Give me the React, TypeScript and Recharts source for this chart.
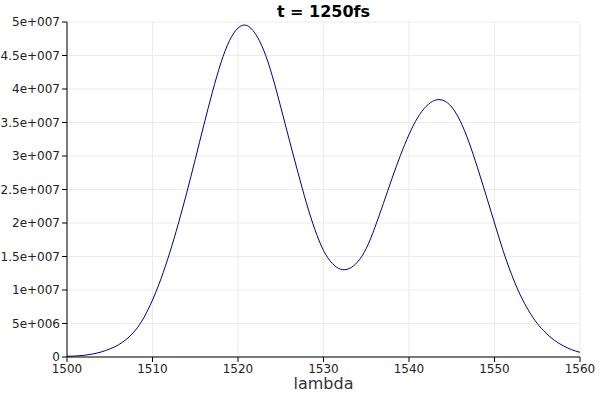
import { LineChart, Line, XAxis, YAxis, CartesianGrid } from 'recharts'

const lambdas = [
  1500, 1501, 1502, 1503, 1504, 1505, 1506, 1507, 1508, 1509,
  1510, 1511, 1512, 1513, 1514, 1515, 1516, 1517, 1518, 1519,
  1520, 1521, 1522, 1523, 1524, 1525, 1526, 1527, 1528, 1529,
  1530, 1531, 1532, 1533, 1534, 1535, 1536, 1537, 1538, 1539,
  1540, 1541, 1542, 1543, 1544, 1545, 1546, 1547, 1548, 1549,
  1550, 1551, 1552, 1553, 1554, 1555, 1556, 1557, 1558, 1559,
  1560,
]

// intensity, in units of 1e6
const intensity = [
  0.1, 0.15, 0.25, 0.45, 0.75, 1.2, 1.8, 2.7, 4.0, 5.9,
  8.5, 11.7, 15.5, 19.8, 24.5, 29.5, 34.6, 39.5, 43.9, 47.2,
  49.1, 49.5, 48.3, 45.8, 42.0, 37.3, 32.4, 27.6, 23.0, 19.0,
  15.9, 14.0, 13.1, 13.2, 14.2, 16.2, 19.3, 22.9, 26.6, 30.1,
  33.2, 35.7, 37.4, 38.3, 38.3, 37.3, 35.2, 32.1, 28.3, 24.2,
  20.0, 15.9, 12.3, 9.3, 6.9, 5.0, 3.6, 2.5, 1.7, 1.1,
  0.7,
]

const xTicks = [1500, 1510, 1520, 1530, 1540, 1550, 1560]
const yTicks = [0, 5e6, 1e7, 1.5e7, 2e7, 2.5e7, 3e7, 3.5e7, 4e7, 4.5e7, 5e7]

const data = lambdas.map((l, i) => ({ lambda: l, value: intensity[i] * 1e6 }))

function sci(v: number) {
  if (v === 0) return '0'
  const exp = Math.floor(Math.log10(v))
  const m = parseFloat((v / Math.pow(10, exp)).toFixed(6))
  return `${m}e+${String(exp).padStart(3, '0')}`
}

const font = 'DejaVu Sans, sans-serif'

export default function App() {
  return (
    <div style={{ position: 'absolute', left: 0, top: 0, width: 600, height: 400, background: '#fff' }}>
      <div
        style={{
          position: 'absolute',
          left: 67,
          width: 513,
          top: 0,
          textAlign: 'center',
          fontFamily: font,
          fontWeight: 'bold',
          fontSize: 16,
          lineHeight: '24px',
          color: '#000',
        }}
      >
        t = 1250fs
      </div>
      <LineChart width={600} height={400} data={data} margin={{ top: 22, right: 20, left: 0, bottom: 0 }}>
        <CartesianGrid stroke="#ebebeb" horizontal vertical />
        <XAxis
          dataKey="lambda"
          type="number"
          domain={[1500, 1560]}
          ticks={xTicks}
          interval={0}
          height={43}
          stroke="#000"
          tickSize={5}
          tick={{ fontSize: 12, fontFamily: font, fill: '#222' }}
          label={{ value: 'lambda', position: 'insideBottom', offset: 11, fontSize: 16, fontFamily: font, fill: '#333' }}
        />
        <YAxis
          type="number"
          domain={[0, 5e7]}
          ticks={yTicks}
          interval={0}
          width={67}
          stroke="#000"
          tickSize={5}
          tickFormatter={sci}
          tick={{ fontSize: 12, fontFamily: font, fill: '#222' }}
        />
        <Line
          type="natural"
          dataKey="value"
          stroke="#00007f"
          strokeWidth={1}
          dot={false}
          isAnimationActive={false}
        />
      </LineChart>
    </div>
  )
}
